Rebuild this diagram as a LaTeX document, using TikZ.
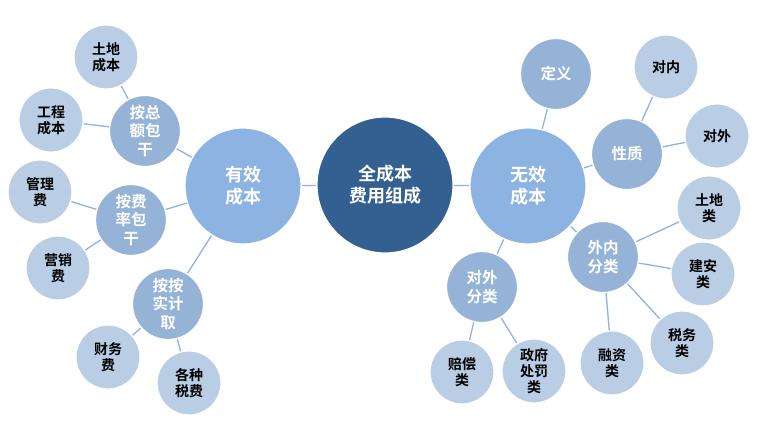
\documentclass[tikz,border=0pt]{standalone}
\usepackage{fontspec}
\setmainfont{Noto Sans CJK SC Bold}
\usetikzlibrary{backgrounds}
\definecolor{cdark}{HTML}{335F91}
\definecolor{cbig}{HTML}{8DB3E2}
\definecolor{cmid}{HTML}{95B3D7}
\definecolor{cleaf}{HTML}{B9CDE5}
\definecolor{cline}{HTML}{8DB3E2}
\tikzset{
  base/.style={circle,draw=white,line width=1.2pt,inner sep=0pt,align=center},
  rootnode/.style={base,fill=cdark,minimum size=136pt,text=white,font=\fontsize{18}{22}\selectfont},
  bignode/.style={base,fill=cbig,minimum size=116pt,text=white,font=\fontsize{18}{22}\selectfont},
  midnode/.style={base,fill=cmid,minimum size=71pt,text=white,font=\fontsize{15.5}{18.5}\selectfont},
  leafnode/.style={base,fill=cleaf,minimum size=64pt,text=black,font=\fontsize{14}{16}\selectfont},
  link/.style={draw=cline,line width=1.3pt}
}
\begin{document}
\begin{tikzpicture}[x=1pt,y=-1pt]
\useasboundingbox (0,0) rectangle (760,438);
\node[rootnode] (root) at (385,185) {全成本\\费用组成};
\node[bignode] (yx) at (243,186) {有效\\成本};
\node[bignode] (wx) at (528,186) {无效\\成本};
% left
\node[midnode] (zong) at (145,131) {按总\\额包\\干};
\node[leafnode] (tdcb) at (106,57) {土地\\成本};
\node[leafnode] (gccb) at (51,120) {工程\\成本};
\node[midnode] (fei) at (131,220) {按费\\率包\\干};
\node[leafnode] (gl) at (40,192) {管理\\费};
\node[leafnode] (yinx) at (58,268) {营销\\费};
\node[midnode] (shi) at (168,304) {按按\\实计\\取};
\node[leafnode] (cw) at (108,357) {财务\\费};
\node[leafnode] (sf) at (189,383) {各种\\税费};
% right
\node[midnode] (dy) at (556,74) {定义};
\node[midnode] (xz) at (627,154) {性质};
\node[leafnode] (dn) at (666,67) {对内};
\node[leafnode] (dw) at (717,136) {对外};
\node[midnode] (wn) at (603,257) {外内\\分类};
\node[leafnode] (tdl) at (709,208) {土地\\类};
\node[leafnode] (ja) at (703,274) {建安\\类};
\node[leafnode] (sw) at (682,343) {税务\\类};
\node[leafnode] (rz) at (612,363) {融资\\类};
\node[midnode] (dwfl) at (482,287) {对外\\分类};
\node[leafnode] (pc) at (462,372) {赔偿\\类};
\node[leafnode] (zf) at (534,371) {政府\\处罚\\类};
\begin{scope}[on background layer]
\draw[link] (yx) -- (root);
\draw[link] (root) -- (wx);
\draw[link] (yx) -- (zong);
\draw[link] (zong) -- (tdcb);
\draw[link] (zong) -- (gccb);
\draw[link] (yx) -- (fei);
\draw[link] (fei) -- (gl);
\draw[link] (fei) -- (yinx);
\draw[link] (yx) -- (shi);
\draw[link] (shi) -- (cw);
\draw[link] (shi) -- (sf);
\draw[link] (wx) -- (dy);
\draw[link] (wx) -- (xz);
\draw[link] (xz) -- (dn);
\draw[link] (xz) -- (dw);
\draw[link] (wx) -- (wn);
\draw[link] (wn) -- (tdl);
\draw[link] (wn) -- (ja);
\draw[link] (wn) -- (sw);
\draw[link] (wn) -- (rz);
\draw[link] (wx) -- (dwfl);
\draw[link] (dwfl) -- (pc);
\draw[link] (dwfl) -- (zf);
\end{scope}
\end{tikzpicture}
\end{document}
